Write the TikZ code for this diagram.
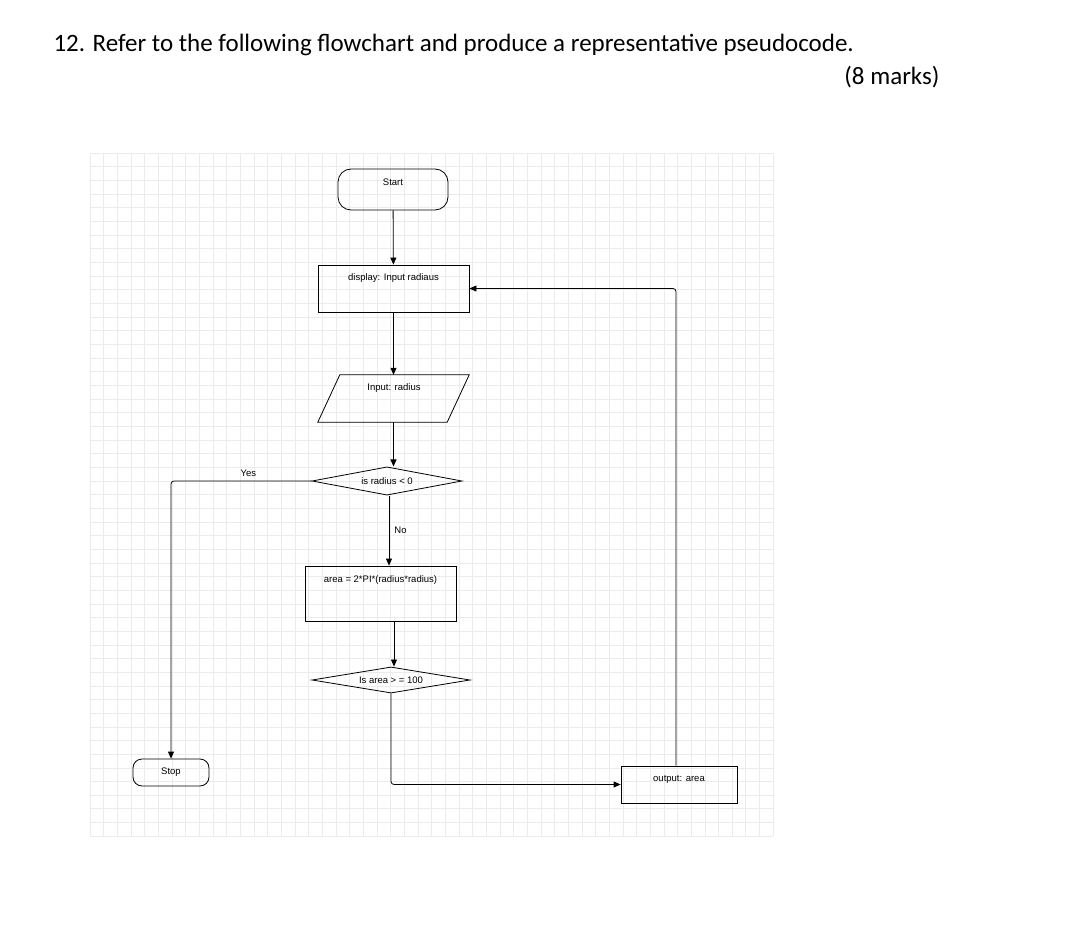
\documentclass[tikz,border=0pt]{standalone}
\usepackage{fontspec}
\setmainfont{Liberation Sans}
\newfontfamily\titlefont{Carlito}
\usetikzlibrary{calc,shapes.geometric,arrows.meta,positioning}
\tikzset{%
	box/.style={%
		rectangle, draw, thick, minimum width=#1, inner sep=0pt%
	},%
	term/.style={%
		rectangle, rounded corners=13pt, draw, thick, inner sep=0pt%
	},%
	dec/.style={%
		diamond, draw, thick, inner sep=0pt, font=\fontsize{9.5}{11}\selectfont%
	},%
	txt/.style={%
		font=\fontsize{9.5}{11}\selectfont, inner sep=0pt%
	},%
	pfeil/.style={%
		-{Triangle[length=7pt,width=6pt]}, thick, rounded corners=3pt%
	},%
}
\begin{document}
\begin{tikzpicture}[x=1pt, y=-1pt]
	\useasboundingbox (0,0) rectangle (1080,936);
	% grid
	\foreach \i in {0,...,50} {
		\draw[black!8] (90+\i*13.66, 153) -- (90+\i*13.66, 836);
		\draw[black!8] (90, 153+\i*13.66) -- (773, 153+\i*13.66);
	}
	% heading
	\node[anchor=west, font=\titlefont\fontsize{25}{28}\selectfont] (title) at (50,45)
		{12. Refer to the following flowchart and produce a representative pseudocode.};
	\node[anchor=east, font=\titlefont\fontsize{25}{28}\selectfont] (marks) at (943,77) {(8 marks)};

	% shapes
	\node[term, minimum width=110, minimum height=41] (start) at (393,189.5) {};
	\node[txt] (starttxt) at (393,182) {Start};
	\node[box=151, minimum height=47] (disp) at (393.5,288.5) {};
	\node[txt] (disptxt) at (393.5,278) {display: Input radiaus};
	\node[minimum width=129, minimum height=47, inner sep=0pt] (inp) at (393.5,398.5) {};
	\draw[thick] ($(inp.north west)+(11,0)$) -- ($(inp.north east)+(11,0)$)
		-- ($(inp.south east)-(11,0)$) -- ($(inp.south west)-(11,0)$) -- cycle;
	\node[txt] (inptxt) at (394,388) {Input: radius};
	\node[dec, aspect=2.42, minimum width=150] (neg) at (387,481) {is radius < 0};
	\node[box=151, minimum height=55] (area) at (380.5,593.5) {};
	\node[txt] (areatxt) at (380.5,580) {area = 2*PI*(radius*radius)};
	\node[dec, aspect=3.3, minimum width=158] (big) at (391,680) {Is area > = 100};
	\node[box=116, minimum height=37] (out) at (679,784.5) {};
	\node[txt] (outtxt) at (679,779) {output: area};
	\node[term, rounded corners=9pt, minimum width=76, minimum height=27, font=\fontsize{9.5}{11}\selectfont] (stop) at (171,772.5) {Stop};

	% connectors
	\draw[pfeil] (start) -- (disp);
	\draw[pfeil] (disp) -- (inp.north -| disp);
	\draw[pfeil] (inp.south -| disp) -- (neg.north -| disp);
	\draw[pfeil] (neg.south -| 389,0) -- node[txt, right=5pt, pos=0.5] (no) {No} (area.north -| 389,0);
	\draw[pfeil] (area.south -| 394,0) -- (big.north -| 394,0);
	\draw[pfeil] (neg.west) -- node[txt, above=4pt, pos=0.45] (yes) {Yes} (neg.west -| stop) -- (stop);
	\draw[pfeil] (big.south) |- (out.west);
	\draw[pfeil] (out.north -| 676,0) |- (disp.east);
\end{tikzpicture}
\end{document}
